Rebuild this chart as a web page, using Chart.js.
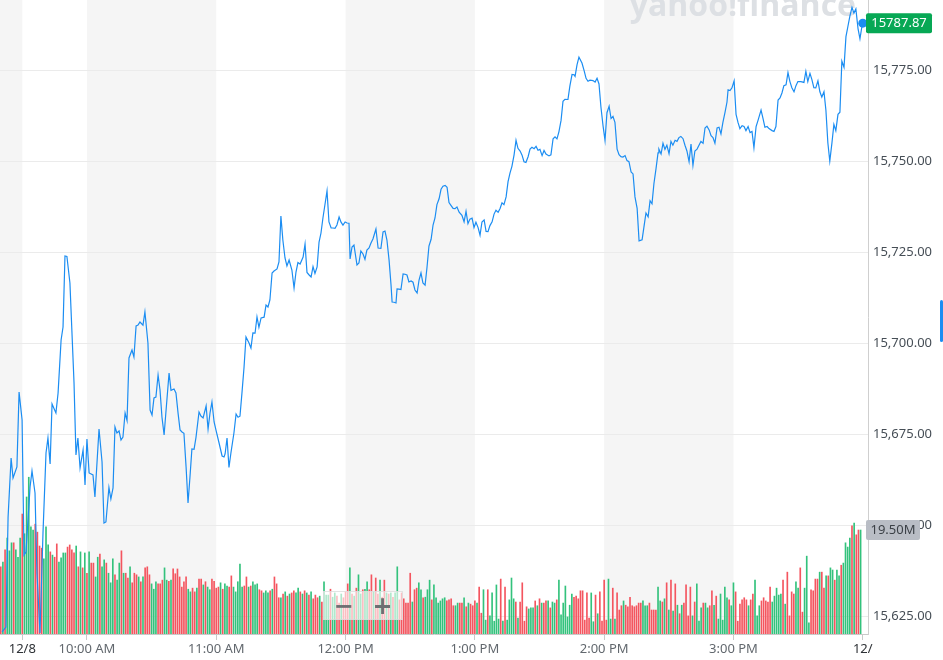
<!DOCTYPE html>
<html lang="en">
<head>
<meta charset="UTF-8">
<title>Intraday 12/8</title>
<script src="https://cdn.jsdelivr.net/npm/chart.js"></script>
<style>
  body { margin: 0; background: #fff; }
  #wrap { position: relative; width: 943px; height: 660px; overflow: hidden; font-family: 'Noto Sans', sans-serif; }
  #zoomBox {
    position: absolute; left: 323px; top: 591px; width: 80px; height: 29px;
    background: rgba(255,255,255,0.62); border: 1px solid rgba(215,215,215,0.7); box-sizing: border-box;
    display: flex; justify-content: space-around; align-items: center;
    color: #6d6f72; font: bold 24px 'DejaVu Sans', sans-serif; line-height: 1;
  }
  #handle { position: absolute; left: 940px; top: 300px; width: 3px; height: 42px; background: #1b8df2; border-radius: 2px; }
</style>
</head>
<body>
<div id="wrap">
  <canvas id="chart" width="943" height="660"></canvas>
  <div id="zoomBox"><span>−</span><span>+</span></div>
  <div id="handle"></div>
</div>
<script>
// minutes after 9:30 and index level
const priceTime = [
  -9.4, -7.6, -6.6, -5.2, -4.3, -2.5, -1.5, -0.1, 0.8, 1.7, 3.6, 4.5, 5.9, 6.8, 8.2, 9.6, 11.0, 11.9, 12.9, 13.8,
  15.6, 16.6, 18.0, 18.9, 19.8, 20.7, 22.1, 24.0, 24.9, 25.8, 26.8, 28.2, 29.1, 30.0, 31.0, 32.8, 33.7, 35.6, 37.0, 37.9,
  38.8, 40.2, 41.1, 42.1, 43.0, 43.9, 44.9, 45.8, 46.7, 47.7, 48.6, 49.5, 50.9, 51.8, 52.8, 53.7, 54.6, 56.0, 56.9,
  58.3, 59.3, 60.2, 61.1, 62.0, 63.0, 63.9, 64.8, 65.8, 66.7, 68.1, 69.0, 70.4, 71.3, 72.3, 73.2, 74.1, 75.0, 76.0, 76.9,
  77.8, 78.7, 79.7, 80.6, 82.0, 82.9, 83.9, 85.3, 86.2, 87.1, 88.0, 89.0, 89.9, 91.3, 92.7, 93.6, 94.1, 95.0, 95.9, 96.8,
  98.2, 99.2, 100.1, 101.0, 101.9, 102.9, 103.8, 105.2, 106.1, 107.0, 108.0, 108.9, 109.8, 110.8, 112.2, 113.1, 114.0, 114.9, 115.9, 116.8,
  118.2, 119.1, 120.0, 120.9, 121.9, 122.8, 123.8,
  125.1, 126.1, 127.0, 127.9, 128.9, 130.3, 131.2, 132.1, 133.1, 134.0, 134.9, 135.8, 136.8, 137.7, 138.6, 139.5, 141.4, 142.3, 143.3, 144.2,
  145.1, 146.0, 147.0, 147.9, 148.8, 149.8, 150.7, 151.6, 152.1, 153.0, 153.9, 155.3, 156.2, 157.1, 158.1, 159.0, 159.9, 160.9, 161.8, 162.7,
  164.1, 165.1, 166.4, 167.4, 168.3, 169.2, 170.2, 171.1, 171.6, 172.5, 173.4, 173.9, 174.8, 175.7, 176.7, 177.6, 178.5, 179.4, 180.4, 181.3,
  182.2, 183.2, 184.1, 185.0, 185.9, 186.9, 187.8, 188.7, 189.7, 190.6, 191.5,
  192.4, 193.4, 194.3, 195.2, 196.2, 197.1, 198.0, 198.9, 199.9, 200.8, 201.7, 202.7, 204.0, 205.0, 205.9, 206.8, 207.7, 208.7, 209.6, 210.5,
  211.5, 212.4, 213.3, 214.3, 215.2, 216.1, 217.0, 218.0, 218.9, 219.8, 220.8, 221.7, 222.6, 223.5, 224.5, 225.4, 226.3, 227.2, 228.2, 229.1,
  230.0, 231.0, 231.9, 232.8, 233.7, 234.7, 235.6, 236.5, 237.5, 238.4, 239.3, 240.2, 241.2, 242.1, 243.0, 244.4, 245.3, 246.3, 247.2, 248.1,
  249.0, 250.0, 250.9, 251.8, 253.2, 254.1, 255.1, 256.0, 256.5, 257.4, 258.3,
  259.7, 260.7, 261.6, 262.5, 263.4, 264.8, 265.8, 266.7, 267.6, 268.5, 269.5, 270.4, 271.3, 272.3, 273.2, 274.1, 275.0, 276.0, 276.9, 277.8,
  278.7, 279.7, 280.6, 281.5, 282.5, 283.4, 284.3, 285.3, 286.2, 287.6, 288.5, 289.4, 290.4, 291.3, 292.2, 293.1, 294.1, 295.0, 295.4, 296.4,
  297.3, 298.2, 299.1, 300.1, 301.0, 301.9, 302.9, 303.8, 304.7, 305.6, 306.6, 307.5, 308.4, 309.4, 310.3, 311.2, 312.1, 313.1, 314.0, 314.9,
  315.9, 316.8, 317.7, 318.7, 319.6, 320.5, 321.4, 322.4, 323.3, 324.2, 325.1, 326.1,
  327.0, 327.5, 328.4, 329.3, 330.3, 331.2, 332.1, 333.0, 334.0, 334.9, 335.8, 336.8, 337.7, 338.6, 339.5, 340.5, 341.4, 342.8, 343.7, 344.6,
  345.6, 346.5, 347.9, 348.8, 349.7, 350.7, 351.6, 352.5, 353.4, 354.4, 355.3, 356.2, 357.1, 358.1, 359.0, 359.9, 361.3, 362.7, 363.6, 364.5,
  365.5, 366.4, 367.3, 368.2, 369.2, 370.1, 371.0, 372.0, 372.9, 373.8, 374.7, 375.7, 376.6, 377.5, 378.5, 379.4, 380.3, 381.3, 382.2, 383.1,
  384.0, 385.0, 385.9, 386.8, 387.8, 388.7, 389.6, 390.0
];
const priceValue = [
  15620.62, 15621.99, 15652.21, 15668.42, 15662.92, 15665.95, 15686.55, 15678.86, 15641.77, 15642.60, 15660.45, 15664.85, 15658.80, 15636.83, 15620.35, 15647.81, 15669.79, 15673.91, 15666.77, 15683.25,
  15680.78, 15686.27, 15700.83, 15704.40, 15723.91, 15723.80, 15716.49, 15689.02, 15669.24, 15673.91, 15665.67, 15670.61, 15661.00, 15673.60, 15664.30, 15663.75, 15657.70, 15676.38, 15667.32, 15650.56,
  15650.84, 15660.30, 15657.15, 15660.18, 15676.93, 15675.28, 15675.83, 15673.36, 15674.19, 15680.78, 15678.70, 15695.89, 15698.08, 15696.16, 15704.68, 15704.95, 15705.78, 15704.90, 15708.52,
  15700.01, 15681.60, 15680.23, 15684.90, 15685.17, 15691.22, 15687.10, 15679.68, 15674.74, 15681.45, 15691.77, 15687.00, 15687.37, 15686.27, 15680.60, 15676.11, 15675.56, 15675.20, 15665.95, 15656.06,
  15663.20, 15670.89, 15670.80, 15674.10, 15681.05, 15679.95, 15679.41, 15682.70, 15676.38, 15680.78, 15683.80, 15678.31, 15676.00, 15672.54, 15668.97, 15668.69, 15669.52, 15673.91, 15665.80, 15669.79,
  15675.28, 15680.50, 15679.60, 15679.90, 15686.10, 15693.42, 15701.66, 15700.00, 15698.63, 15702.75, 15702.70, 15707.15, 15704.30, 15706.88, 15707.10, 15710.45, 15709.90, 15711.82, 15719.24, 15719.79,
  15720.34, 15722.26, 15734.89, 15728.30, 15723.36, 15721.16, 15722.81,
  15720.06, 15715.12, 15719.51, 15722.10, 15721.71, 15723.63, 15727.20, 15719.40, 15718.69, 15718.14, 15721.00, 15719.10, 15720.89, 15727.75, 15730.22, 15734.35, 15741.76, 15733.25, 15731.60, 15731.60,
  15731.50, 15732.42, 15734.62, 15733.20, 15732.40, 15733.25, 15732.97, 15732.90, 15723.08, 15726.38, 15726.93, 15721.43, 15721.98, 15725.28, 15724.46, 15723.00, 15725.55, 15726.10, 15727.48, 15728.58,
  15731.32, 15726.10, 15726.00, 15730.50, 15730.77, 15728.30, 15722.70, 15715.94, 15711.27, 15711.20, 15711.00, 15714.84, 15714.80, 15714.70, 15718.96, 15718.90, 15718.69, 15716.76, 15717.04, 15716.70,
  15714.57, 15713.74, 15717.31, 15719.24, 15716.49, 15715.90, 15720.80, 15726.65, 15728.50, 15732.42, 15734.35,
  15738.03, 15739.62, 15742.23, 15743.08, 15743.30, 15742.78, 15738.58, 15737.83, 15736.98, 15736.90, 15737.39, 15735.94, 15735.09, 15733.30, 15736.16, 15732.78, 15734.04, 15734.30, 15731.74, 15733.20,
  15731.70, 15729.62, 15733.25, 15733.82, 15730.66, 15730.60, 15732.26, 15733.30, 15735.42, 15736.46, 15735.90, 15736.98, 15738.50, 15738.03, 15740.14, 15744.34, 15746.65, 15748.55, 15751.71, 15755.69,
  15753.49, 15752.75, 15751.60, 15749.81, 15749.59, 15751.18, 15753.27, 15753.79, 15753.40, 15754.01, 15752.97, 15753.20, 15751.49, 15752.90, 15751.93, 15751.40, 15751.71, 15756.13, 15756.65, 15756.10,
  15758.02, 15761.16, 15766.43, 15766.95, 15766.90, 15770.63, 15773.79, 15773.70, 15773.24, 15776.40, 15778.52,
  15776.92, 15774.84, 15772.72, 15771.90, 15772.20, 15772.10, 15771.68, 15772.72, 15771.16, 15764.84, 15759.59, 15755.69, 15763.27, 15765.06, 15761.68, 15762.23, 15760.63, 15753.27, 15751.71, 15751.18,
  15751.10, 15751.49, 15750.11, 15749.81, 15746.98, 15746.46, 15740.14, 15736.98, 15728.05, 15728.36, 15732.04, 15735.72, 15734.67, 15739.10, 15738.25, 15743.82, 15748.03, 15752.23, 15753.27, 15751.93,
  15754.87, 15753.20, 15754.34, 15752.01, 15755.39, 15754.34, 15755.69, 15755.39, 15756.43, 15756.76, 15756.13, 15754.34, 15752.75, 15749.81, 15754.65, 15748.77, 15752.75, 15753.27, 15754.34, 15755.39,
  15754.87, 15759.07, 15759.59, 15758.55, 15756.95, 15756.43, 15754.87, 15759.07, 15759.26, 15757.47, 15760.63, 15763.46,
  15766.21, 15769.56, 15769.34, 15770.11, 15772.03, 15762.83, 15760.61, 15758.90, 15759.70, 15759.48, 15758.35, 15759.48, 15757.80, 15758.13, 15753.66, 15759.48, 15761.16, 15763.96, 15761.73, 15759.26,
  15759.48, 15758.90, 15758.35, 15758.13, 15759.48, 15766.76, 15767.34, 15768.68, 15770.69, 15770.91, 15774.29, 15771.81, 15770.14, 15769.01, 15770.69, 15771.81, 15771.80, 15771.59, 15774.62, 15771.81,
  15774.07, 15772.36, 15770.14, 15770.10, 15772.03, 15769.01, 15767.56, 15769.01, 15763.96, 15755.00, 15749.95, 15755.00, 15760.06, 15758.35, 15762.83, 15763.41, 15777.42, 15775.74, 15784.15, 15786.95,
  15789.75, 15792.22, 15790.63, 15791.76, 15786.37, 15783.57, 15786.95, 15787.87
];

// one volume bar per minute, first bar at 9:20 (millions of shares)
const volumeStart = -10;
const volume = [
  12.6, 13.5, 15.8, 18.0, 15.6, 17.1, 17.1, 15.8, 14.4, 18.0, 22.5, 18.8, 25.7, 29.4, 20.1, 19.5, 20.6, 19.1, 16.5, 16.1,
  14.1, 20.1, 16.7, 15.4, 14.8, 14.4, 16.9, 13.5, 14.3, 15.2, 15.2, 16.3, 16.7, 15.8, 15.2, 16.5, 12.6, 15.4, 12.4, 15.2,
  11.4, 15.4, 13.3, 13.3, 10.7, 14.4, 15.0, 12.6, 13.9, 13.3, 11.4, 9.6, 14.1, 11.1, 10.1, 13.3, 15.6, 11.4, 11.4, 10.5,
  12.6, 9.6, 11.4, 11.1, 10.7, 9.8, 10.7, 12.4, 12.6, 11.1, 9.4, 8.4, 9.8, 9.4, 9.4, 10.1, 12.4, 10.1, 9.9, 10.1,
  12.2, 11.3, 12.2, 10.7, 8.8, 9.8, 10.7, 8.4, 7.9, 8.6, 7.9, 8.6, 10.3, 10.3, 9.2, 9.8, 8.8, 8.3, 10.3, 9.9,
  8.6, 8.8, 9.6, 8.4, 9.4, 9.0, 8.8, 10.9, 8.8, 7.9, 9.8, 13.1, 8.8, 9.0, 10.7, 8.8, 9.0, 9.8, 9.2, 9.4,
  8.3, 8.1, 7.7, 8.1, 7.7, 8.1, 8.4, 10.7, 9.4, 6.8, 6.8, 7.5, 7.9, 7.1, 7.5,
  7.7, 8.1, 7.7, 8.6, 7.9, 7.5, 8.1, 7.7, 7.3, 7.9, 6.6, 7.3, 6.8, 7.1, 6.0, 9.8, 7.3, 7.3, 8.4, 6.9,
  7.7, 7.1, 5.8, 7.5, 6.8, 7.9, 9.4, 12.4, 7.5, 7.1, 8.6, 11.1, 7.5, 8.3, 8.4, 9.8, 8.3, 11.1, 7.9, 10.5,
  7.5, 10.1, 6.9, 10.1, 7.7, 7.5, 7.7, 6.9, 7.7, 12.6, 6.4, 7.7, 6.6, 5.8, 5.8, 11.4, 6.0, 8.3, 8.6, 9.6,
  8.3, 6.8, 6.9, 8.3, 10.1, 6.4, 9.2, 6.8,
  5.8, 6.2, 6.6, 6.8, 6.2, 6.4, 6.6, 5.3, 5.3, 5.8, 5.8, 5.8, 6.8, 5.1, 5.8, 5.6, 5.3, 6.2, 5.8, 8.8,
  3.9, 8.3, 2.6, 8.3, 3.4, 7.7, 2.4, 9.2, 2.8, 10.3, 2.4, 8.8, 2.6, 6.4, 10.5, 6.6, 6.0, 3.0, 6.0, 9.6,
  2.4, 5.1, 4.7, 4.9, 4.9, 6.2, 5.3, 6.6, 5.8, 5.8, 6.2, 6.2,
  4.9, 6.0, 5.8, 6.4, 10.1, 3.6, 5.8, 9.0, 3.2, 5.4, 7.5, 6.9, 7.1, 6.6, 8.1,
  8.1, 2.6, 7.7, 3.0, 7.7, 2.3, 7.3, 3.8, 7.9, 2.4, 10.1, 2.6, 10.3, 2.8, 8.6, 2.8, 7.7, 4.5, 5.3, 6.2,
  5.4, 5.1, 6.9, 5.3, 5.1, 5.3, 5.8, 5.8, 6.2, 5.3, 5.3, 5.8, 4.5, 4.5, 4.5, 8.8, 6.2, 6.0, 6.6, 9.6,
  4.5, 10.1, 4.3, 9.4, 5.4, 3.8, 5.4, 5.8, 9.2, 3.4, 8.8, 3.4, 6.0, 9.4, 2.4, 4.9, 5.8, 5.8, 4.9, 5.3,
  8.1, 5.4, 7.1, 2.8, 7.5, 2.6, 8.8,
  6.8, 6.4, 5.3, 9.6, 7.9, 2.4, 5.6, 6.4, 6.8, 6.4, 5.3, 6.4, 7.5, 10.1, 3.4, 5.3, 6.2, 6.8, 6.2, 6.0,
  8.8, 6.0, 7.1, 8.6, 7.3, 7.5, 10.1, 5.6, 11.6, 3.4, 7.9, 7.5, 9.8, 8.6, 12.4, 4.1, 8.6, 14.6, 2.1, 8.3,
  8.1, 10.3, 10.3, 11.6, 11.6, 8.6, 10.9, 10.9, 12.4, 12.0, 10.1, 12.0, 10.9, 12.9, 13.3, 17.1, 16.3, 18.0, 20.3, 20.8,
  18.6, 19.5, 19.5
];
// g = minute closed up, r = minute closed down
const volumeDir = (
  'rgrgggrggg' + 'rgggggrrrr' + 'gggrgrrggg' + 'grrrrgrgrg' + 'rgrrggrggr' + 'gggrggrgrr' + 'grrrgrgrrr' +
  'gggrrrggrg' + 'rrrrrrrggr' + 'rgrrgrggrr' + 'rrgrggrrgg' + 'gggrrgrggg' + 'rrgggrgrrr' + 'grgrg' +
  'rrggrgrgrg' + 'rrrgrgggrg' + 'grrgrrrgrg' + 'rggrggrrgr' + 'rgrrgrgrgg' + 'rrrrrrgrrg' + 'grgggrgg' +
  'ggggrrrrgg' + 'rrgrgrrrgr' + 'rggrgggggr' + 'grggggrgrr' + 'rrgggrgrgrrg' +
  'rggrgggggggrrrr' +
  'rrrrggrgrr' + 'rrggrgrrrg' + 'rrrrrrrrgg' + 'grrrrggrgr' + 'grgrgrgrrr' + 'rgrgggrggr' + 'rgrgggg' +
  'grggrrrrrr' + 'grrgggrrrr' + 'rgggggrgrr' + 'rrggrrgggr' + 'rrrgrrgrgg' + 'rggrggggrg' + 'rrg'
).split('');

const priceTicks = [15625, 15650, 15675, 15700, 15725, 15750, 15775];
const timeTicks = [0, 30, 90, 150, 210, 270, 330, 390];
const timeLabels = ['12/8', '10:00 AM', '11:00 AM', '12:00 PM', '1:00 PM', '2:00 PM', '3:00 PM', '12/'];
// shaded hour bands (minutes after 9:30), first one runs from the left edge
const shadedBands = [[null, 0], [30, 90], [150, 210], [270, 330]];

const blue = '#1b8df2';
const green = '#33c27c';
const red = '#f4555f';
const lastPrice = priceValue[priceValue.length - 1];
const lastVolume = volume[volume.length - 1];

const backdrop = {
  id: 'backdrop',
  beforeDraw(chart) {
    const { ctx, chartArea: a, scales: { x } } = chart;
    ctx.save();
    ctx.fillStyle = '#f5f5f5';
    shadedBands.forEach(([s, e]) => {
      const x0 = s === null ? a.left : x.getPixelForValue(s);
      const x1 = x.getPixelForValue(e);
      ctx.fillRect(x0, a.top, x1 - x0, a.bottom - a.top);
    });
    // watermark
    ctx.fillStyle = '#dde0e4';
    ctx.font = 'bold 32px "Open Sans", sans-serif';
    ctx.textAlign = 'right';
    ctx.textBaseline = 'alphabetic';
    ctx.fillText('yahoo!finance', 856, 16);
    ctx.restore();
  },
  afterDraw(chart) {
    const { ctx, chartArea: a, scales: { y, yv } } = chart;
    ctx.save();
    ctx.font = '13px "Noto Sans", sans-serif';
    ctx.textAlign = 'center';
    ctx.textBaseline = 'middle';
    // last price tag
    let py = y.getPixelForValue(lastPrice);
    ctx.fillStyle = '#07a855';
    ctx.beginPath();
    ctx.roundRect(a.right - 2, py - 10, 66, 20, 2);
    ctx.fill();
    ctx.fillStyle = '#fff';
    ctx.fillText(lastPrice.toFixed(2), a.right + 31, py + 0.5);
    // last volume tag
    let vy = yv.getPixelForValue(lastVolume);
    ctx.fillStyle = '#b9bdc5';
    ctx.beginPath();
    ctx.roundRect(a.right - 2, vy - 10, 54, 20, 2);
    ctx.fill();
    ctx.fillStyle = '#3c4147';
    ctx.fillText(lastVolume.toFixed(2) + 'M', a.right + 25, vy + 0.5);
    ctx.restore();
  }
};

// keep the plot flush with the canvas edges
function noEdgePadding(s) {
  s.paddingTop = 0;
  s.paddingBottom = 0;
  s.paddingLeft = 0;
  s.paddingRight = 0;
}

const ctx = document.getElementById('chart').getContext('2d');
new Chart(ctx, {
  type: 'bar',
  data: {
    datasets: [
      {
        type: 'line',
        data: priceTime.map((t, i) => ({ x: t, y: priceValue[i] })),
        yAxisID: 'y',
        borderColor: blue,
        borderWidth: 1.2,
        tension: 0,
        pointRadius: c => (c.dataIndex === priceValue.length - 1 ? 4.5 : 0),
        pointBackgroundColor: blue,
        pointBorderWidth: 0,
        clip: 6,
        order: 0
      },
      {
        type: 'bar',
        data: volume.map((v, i) => ({ x: volumeStart + i, y: v })),
        yAxisID: 'yv',
        backgroundColor: volumeDir.map(d => (d === 'g' ? green : red)),
        barThickness: 1,
        order: 1
      }
    ]
  },
  options: {
    responsive: false,
    devicePixelRatio: 1,
    animation: false,
    layout: { padding: 0, autoPadding: false },
    plugins: { legend: { display: false }, tooltip: { enabled: false } },
    scales: {
      x: {
        type: 'linear',
        min: -10.35,
        max: 392.43,
        offset: false,
        afterFit: s => { s.height = 26; noEdgePadding(s); },
        afterBuildTicks: s => { s.ticks = timeTicks.map(v => ({ value: v })); },
        ticks: {
          autoSkip: false,
          maxRotation: 0,
          padding: 1,
          font: { family: 'Noto Sans', size: 13 },
          color: c => (c.index === 0 || c.index === timeTicks.length - 1 ? '#2e3236' : '#62686e'),
          callback: (v, i) => timeLabels[i]
        },
        grid: { offset: false, drawOnChartArea: false, drawTicks: true, tickLength: 6, color: '#c9c9c9' },
        border: { display: true, color: '#c9c9c9' }
      },
      y: {
        type: 'linear',
        position: 'right',
        min: 15620.07,
        max: 15794.23,
        afterFit: s => { s.width = 75; noEdgePadding(s); },
        afterBuildTicks: s => { s.ticks = priceTicks.map(v => ({ value: v })); },
        ticks: {
          padding: 5,
          font: { family: 'Noto Sans', size: 13 },
          color: '#464e56',
          callback: v => v.toLocaleString('en-US', { minimumFractionDigits: 2, maximumFractionDigits: 2 })
        },
        grid: { color: '#ebebeb', drawTicks: false },
        border: { display: true, color: '#cfcfcf' }
      },
      yv: {
        type: 'linear',
        display: false,
        min: 0,
        max: 118.9
      }
    }
  },
  plugins: [backdrop]
});
</script>
</body>
</html>
